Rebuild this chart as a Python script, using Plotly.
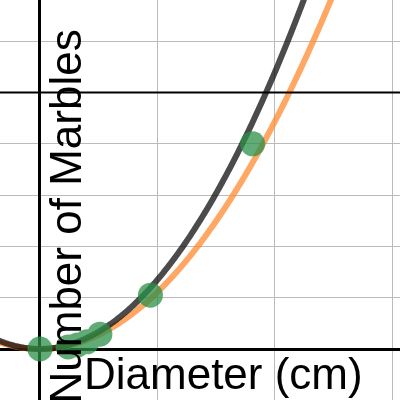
import numpy as np
import plotly.graph_objects as go

pt_x = [0, 0.24, 0.32, 0.40, 0.51, 0.94, 1.81]
pt_y = [0, 0.04, 0.08, 0.14, 0.29, 1.05, 4.00]
black_coef = 1.35   # y = a x^2
orange_coef = 1.11

xs = np.linspace(-0.4, 3.1, 400)
yb = black_coef*xs**2
yo = orange_coef*xs**2

fig = go.Figure()
fig.add_trace(go.Scatter(x=xs, y=yo, mode="lines", line=dict(color="#ff8a30", width=6, simplify=False), opacity=0.75))
fig.add_trace(go.Scatter(x=xs, y=yb, mode="lines", line=dict(color="#000000", width=6, simplify=False), opacity=0.7))
fig.add_trace(go.Scatter(x=pt_x, y=pt_y, mode="markers", marker=dict(color="#2d8f48", size=25), opacity=0.75))
fig.add_hline(y=5, line=dict(color="black", width=2))
fig.update_layout(
    width=400, height=400, margin=dict(l=0, r=0, t=0, b=0, pad=0, autoexpand=False), showlegend=False,
    plot_bgcolor="white", paper_bgcolor="white",
    xaxis=dict(range=[-0.34, 3.064], dtick=1, tick0=0, showgrid=True, gridcolor="#bbbbbb", gridwidth=1,
               zeroline=True, zerolinecolor="black", zerolinewidth=3, showticklabels=False, fixedrange=True),
    yaxis=dict(range=[-0.994, 6.803], dtick=1, tick0=0, showgrid=True, gridcolor="#bbbbbb", gridwidth=1,
               zeroline=True, zerolinecolor="black", zerolinewidth=3, showticklabels=False, fixedrange=True),
    annotations=[
        dict(text="Diameter (cm)", xref="paper", yref="paper", x=82/400, y=0, xanchor="left", yanchor="bottom",
             showarrow=False, font=dict(family="Liberation Sans, Arial", size=44, color="black")),
        dict(text="Number of Marbles", xref="paper", yref="paper", x=38/400, y=1-28/400, xanchor="left", yanchor="top",
             textangle=-90, showarrow=False, font=dict(family="Liberation Sans, Arial", size=44, color="black")),
    ],
)
fig.write_html("out.html", config={"displayModeBar": False},
               post_script="document.body.style.margin='0';document.body.style.overflow='hidden';")
